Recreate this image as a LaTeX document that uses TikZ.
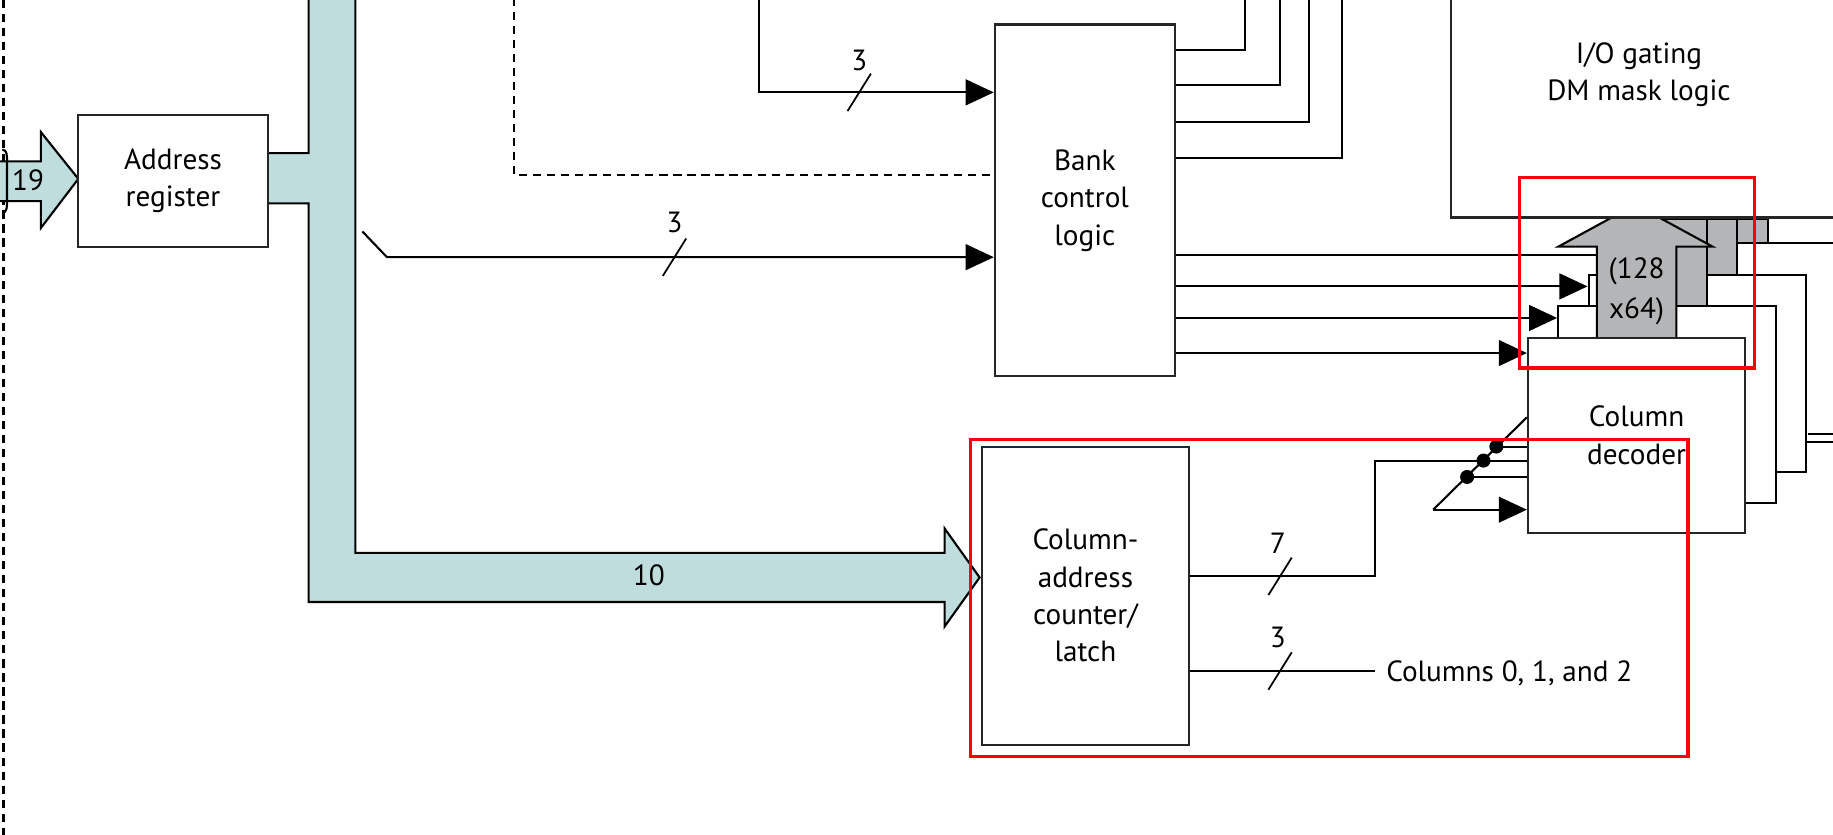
\documentclass[tikz,border=0pt]{standalone}
\usepackage{fontspec}
\setmainfont{PT Sans}
\usetikzlibrary{arrows.meta}
\definecolor{teal}{HTML}{BFDDDC}
\definecolor{gry}{HTML}{B4B5B7}
\begin{document}
\begin{tikzpicture}[x=1pt,y=-1pt,line width=1.8pt,
  blk/.style={draw=black!85,fill=white,inner sep=0,align=center,font=\fontsize{25}{32}\selectfont},
  lbl/.style={font=\fontsize{25}{30}\selectfont,inner sep=0},
  arr/.style={-{Triangle[length=24pt,width=22pt]}},
  sl/.style={line width=1.5pt},
  redb/.style={draw=red,line width=3pt}]
\useasboundingbox (0,0) rectangle (1568,714);
\begin{scope}
\clip (0,0) rectangle (1568,714);
% left dashed line
\draw[dash pattern=on 7pt off 5pt] (3,0) -- (3,714);
% 19 arrow
\draw[fill=teal] (0,138)--(35,138)--(35,113)--(67,153)--(35,195)--(35,172)--(0,172);
\draw (2,128) to[out=0,in=90] (6,138) -- (6,172) to[out=-90,in=0] (2,182);
\node[lbl] at (24,154) {19};
% bus
\fill[teal] (264,-5)--(264,131)--(229,131)--(229,174)--(264,174)--(264,515)--(808,515)--(808,536)--(838,494)--(808,452)--(808,473)--(304,473)--(304,-5)--cycle;
\draw (264,-5)--(264,131)--(229,131) (229,174)--(264,174)--(264,515)--(808,515)--(808,536)--(838,494)--(808,452)--(808,473)--(304,473)--(304,-5);
\node[lbl] at (555,492) {10};
\node[blk,minimum width=162pt,minimum height=113pt] (ar) at (148,154.5) {Address\\register};
% dashed rect
\draw[dash pattern=on 7pt off 5pt] (440,-2) -- (440,150) -- (851,150);
% bank control
\node[blk,minimum width=154pt,minimum height=301pt] (bc) at (928,171.5) {Bank\\control\\logic};
\coordinate (t3) at (649,-2);
\draw[arr] (t3) |- (bc.west |- 0,79);
\draw[sl] (725,95)--(745,63); \node[lbl] at (735,52) {3};
\draw[arr] (310,198) -- (331,220) -- (bc.west |- 0,220);
\draw[sl] (567,236)--(587,204); \node[lbl] at (577,190) {3};
\draw (bc.east |- 0,43) -| (1065,-2);
\draw (bc.east |- 0,73) -| (1095,-2);
\draw (bc.east |- 0,104) -| (1120,-2);
\draw (bc.east |- 0,135) -| (1148,-2);
% column decoder layers (back to front)
\foreach \k in {3,2,1} {
  \draw[fill=gry] (1366+26*\k,187) rectangle (1434+26*\k,289-27*\k);
  \draw[fill=white] (1307+26*\k,289-27*\k) rectangle (1493+26*\k,456-26*\k);
}
\draw (1547,371) -- (1570,371);
\draw[fill=gry] (1366,289)--(1366,211)--(1333,211)--(1399,175)--(1465,211)--(1434,211)--(1434,289);
\node[lbl,align=center,font=\fontsize{25}{34}\selectfont] at (1400,249) {(128\\x64)};
\node[blk,minimum width=186pt,minimum height=167pt] (cd) at (1400,372.5) {Column\\decoder};
% I/O gating
\node[blk,minimum width=340pt,minimum height=200pt,anchor=south west] (io) at (1240,187) {};
\node[lbl,align=center,font=\fontsize{25}{32}\selectfont] at (1402,64) {I/O gating\\DM mask logic};
% lines from bank control to decoder
\draw (bc.east |- 0,218) -- (1366,218);
\draw[arr] (bc.east |- 0,245) -- (1358,245);
\draw[arr] (bc.east |- 0,272) -- (1332,272);
\draw[arr] (bc.east |- 0,302) -- (cd.west |- 0,302);
% column address counter
\node[blk,minimum width=177pt,minimum height=255pt] (ca) at (928.5,509.5) {Column-\\address\\counter/\\latch};
\draw (ca.east |- 0,493) -- (1176,493) -- (1176,394) -- (cd.west |- 0,394);
\draw[sl] (1085,509)--(1105,477); \node[lbl] at (1093,465) {7};
\draw (1226,436) -- (cd.west |- 0,357);
\draw (1280,382) -- (cd.west |- 0,382);
\draw (1255,408) -- (cd.west |- 0,408);
\foreach \p in {(1280,382),(1269,394),(1255,408)} \fill \p circle (6pt);
\draw[arr] (1226,436) -- (cd.west |- 0,436);
\coordinate (ce) at (1176,574);
\draw (ca.east |- 0,574) -- (ce);
\draw[sl] (1085,590)--(1105,558); \node[lbl] at (1093,545) {3};
\node[lbl,anchor=west] (cols) at (1185,576) {Columns 0, 1, and 2};
% red boxes
\draw[redb] (830,376) rectangle (1444,647);
\draw[redb] (1300,152) rectangle (1501,315);
\end{scope}
\end{tikzpicture}
\end{document}
